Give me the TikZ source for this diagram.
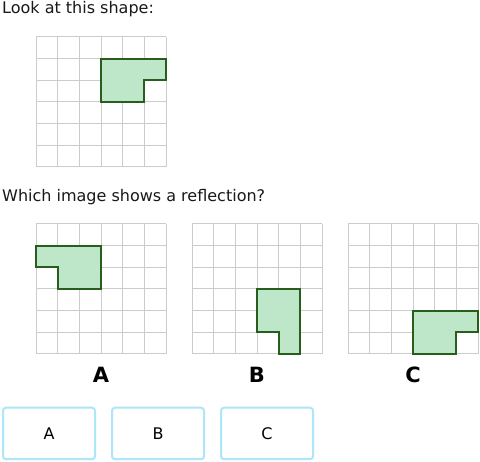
\documentclass[tikz,border=0pt]{standalone}
\usepackage{fontspec}
\setmainfont{DejaVu Sans}
\definecolor{gridc}{RGB}{204,204,204}
\definecolor{shapefill}{RGB}{190,230,200}
\definecolor{shapeline}{RGB}{40,94,28}
\definecolor{btnline}{RGB}{172,230,248}
\begin{document}
\begin{tikzpicture}[x=1pt,y=-1pt,
  gridline/.style={draw=gridc,line width=1pt},
  shapepoly/.style={fill=shapefill,draw=shapeline,line width=2pt,line join=miter},
  prompt/.style={anchor=base west,inner sep=0pt,font=\fontsize{16}{18}\selectfont,text=black!90},
  letterlbl/.style={anchor=base,inner sep=0pt,font=\fontsize{21}{24}\selectfont\bfseries},
  btn/.style={draw=btnline,line width=2pt,rounded corners=3pt,minimum width=92pt,minimum height=51.5pt,inner sep=0pt,font=\fontsize{16}{18}\selectfont}]
\useasboundingbox[fill=white] (0,0) rectangle (480,462);
\def\c{21.6667}
% grids
\foreach \gx/\gy in {36/37, 36/224, 192/224, 348/224}{
  \foreach \i in {0,...,6}{
    \draw[gridline] (\gx+\i*\c,\gy) -- (\gx+\i*\c,\gy+6*\c);
    \draw[gridline] (\gx,\gy+\i*\c) -- (\gx+6*\c,\gy+\i*\c);
  }
}
% original shape
\begin{scope}[shift={(36,37)}]
\draw[shapepoly] (3*\c,1*\c) -- (6*\c,1*\c) -- (6*\c,2*\c) -- (5*\c,2*\c) -- (5*\c,3*\c) -- (3*\c,3*\c) -- cycle;
\end{scope}
% A
\begin{scope}[shift={(36,224)}]
\draw[shapepoly] (0,1*\c) -- (3*\c,1*\c) -- (3*\c,3*\c) -- (1*\c,3*\c) -- (1*\c,2*\c) -- (0,2*\c) -- cycle;
\end{scope}
% B
\begin{scope}[shift={(192,224)}]
\draw[shapepoly] (3*\c,3*\c) -- (5*\c,3*\c) -- (5*\c,6*\c) -- (4*\c,6*\c) -- (4*\c,5*\c) -- (3*\c,5*\c) -- cycle;
\end{scope}
% C
\begin{scope}[shift={(348,224)}]
\draw[shapepoly] (3*\c,4*\c) -- (6*\c,4*\c) -- (6*\c,5*\c) -- (5*\c,5*\c) -- (5*\c,6*\c) -- (3*\c,6*\c) -- cycle;
\end{scope}
% texts
\node[prompt] (q1) at (2,14) {Look at this shape:};
\node[prompt] (q2) at (2,201.5) {Which image shows a reflection?};
\node[letterlbl] (la) at (101,382.5) {A};
\node[letterlbl] (lb) at (257,382.5) {B};
\node[letterlbl] (lc) at (413,382.5) {C};
% buttons
\node[btn] (ba) at (49,433.5) {A};
\node[btn] (bb) at (158,433.5) {B};
\node[btn] (bc) at (267,433.5) {C};
\end{tikzpicture}
\end{document}
